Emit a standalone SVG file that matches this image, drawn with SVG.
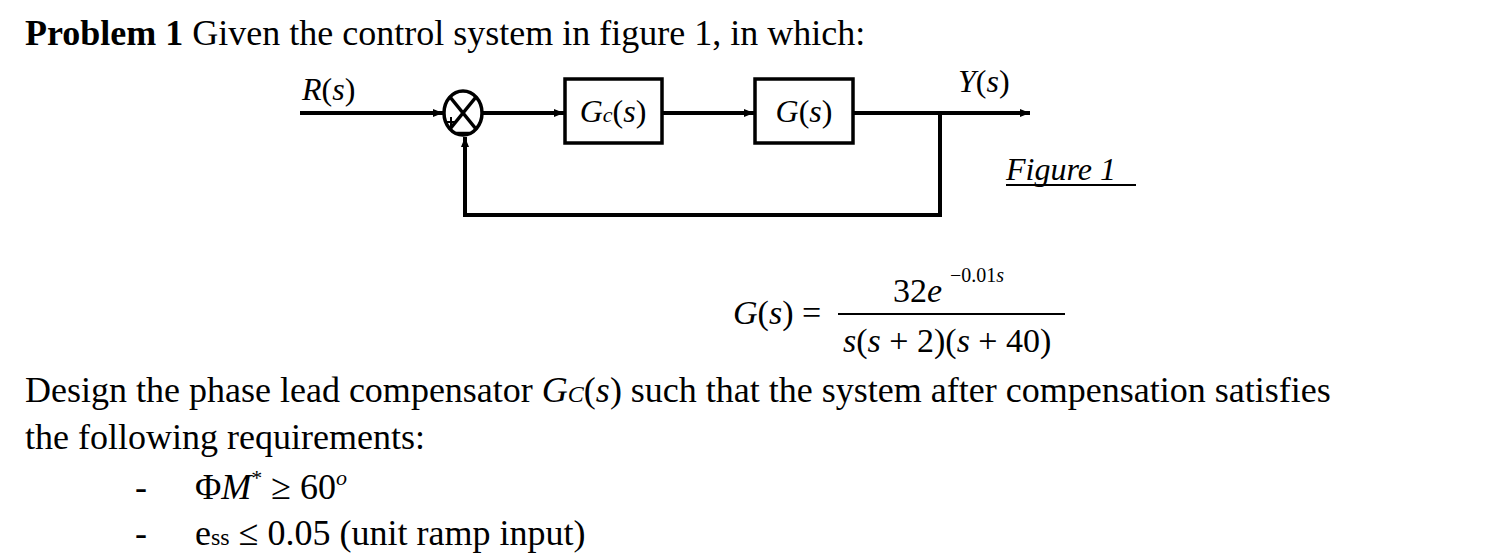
<svg xmlns="http://www.w3.org/2000/svg" width="1491" height="559" viewBox="0 0 1491 559">
<defs>
<marker id="ah" markerWidth="10" markerHeight="8" refX="10" refY="4" orient="auto" markerUnits="userSpaceOnUse"><path d="M0,0 L10,4 L0,8 z" fill="#000"/></marker>
<style>
.t{font-family:"Liberation Serif",serif;fill:#000}
.i{font-style:italic}
.ln{stroke:#000;stroke-width:4;fill:none}
.bx{stroke:#000;stroke-width:3.5;fill:#fff}
</style>
</defs>
<rect width="1491" height="559" fill="#fff"/>
<text class="t" x="25" y="45" font-size="36"><tspan font-weight="bold">Problem 1</tspan> Given the control system in figure 1, in which:</text>
<g id="connectors">
<line class="ln" x1="300" y1="113" x2="443" y2="113" marker-end="url(#ah)"/>
<line class="ln" x1="482" y1="113" x2="564" y2="113" marker-end="url(#ah)"/>
<line class="ln" x1="662" y1="113" x2="754" y2="113" marker-end="url(#ah)"/>
<line class="ln" x1="853" y1="113" x2="1030" y2="113" marker-end="url(#ah)"/>
<polyline class="ln" points="940,113 940,215 465,215 465,137" marker-end="url(#ah)"/>
</g>
<g id="sum">
<ellipse cx="463" cy="113" rx="19" ry="22" fill="#fff" stroke="#000" stroke-width="3.5"/>
<line x1="450" y1="97" x2="476" y2="129" stroke="#000" stroke-width="3.5"/>
<line x1="476" y1="97" x2="450" y2="129" stroke="#000" stroke-width="3.5"/>
<line x1="451" y1="117" x2="451" y2="127" stroke="#000" stroke-width="2"/>
<line x1="446" y1="122" x2="456" y2="122" stroke="#000" stroke-width="2"/>
<line x1="456" y1="133" x2="470" y2="133" stroke="#000" stroke-width="2.5"/>
</g>
<g id="Gc">
<rect class="bx" x="565" y="79" width="97" height="64"/>
<text class="t" x="613" y="122" font-size="32" text-anchor="middle"><tspan class="i">G</tspan><tspan class="i" font-size="22">c</tspan>(<tspan class="i">s</tspan>)</text>
</g>
<g id="G">
<rect class="bx" x="755" y="79" width="98" height="64"/>
<text class="t" x="804" y="122" font-size="32" text-anchor="middle"><tspan class="i">G</tspan>(<tspan class="i">s</tspan>)</text>
</g>
<text class="t" x="302" y="100" font-size="32"><tspan class="i">R</tspan>(<tspan class="i">s</tspan>)</text>
<text class="t" x="958" y="92" font-size="32"><tspan class="i">Y</tspan>(<tspan class="i">s</tspan>)</text>
<text class="t i" x="1006" y="180" font-size="32">Figure 1</text>
<line x1="1006" y1="185" x2="1136" y2="185" stroke="#000" stroke-width="2"/>
<text class="t" x="733" y="324" font-size="34"><tspan class="i">G</tspan>(<tspan class="i">s</tspan>) =</text>
<text class="t" x="893" y="302" font-size="34">32<tspan class="i">e</tspan></text>
<text class="t" x="950" y="282" font-size="20">−0.01<tspan class="i">s</tspan></text>
<line x1="838" y1="314" x2="1065" y2="314" stroke="#000" stroke-width="2"/>
<text class="t" x="843" y="352" font-size="34"><tspan class="i">s</tspan>(<tspan class="i">s</tspan> + 2)(<tspan class="i">s</tspan> + 40)</text>
<text class="t" x="25" y="402" font-size="36">Design the phase lead compensator <tspan class="i">G</tspan><tspan class="i" font-size="24">C</tspan>(<tspan class="i">s</tspan>) such that the system after compensation satisfies</text>
<text class="t" x="25" y="449" font-size="36">the following requirements:</text>
<text class="t" x="135" y="499" font-size="36">-</text>
<text class="t" x="195" y="499" font-size="36">Φ<tspan class="i">M</tspan><tspan font-size="22" dy="-14">*</tspan><tspan dy="14"> ≥ 60</tspan><tspan class="i" font-size="22" dy="-14">o</tspan></text>
<text class="t" x="135" y="545" font-size="36">-</text>
<text class="t" x="195" y="545" font-size="36">e<tspan font-size="24">ss</tspan> ≤ 0.05 (unit ramp input)</text>
</svg>
